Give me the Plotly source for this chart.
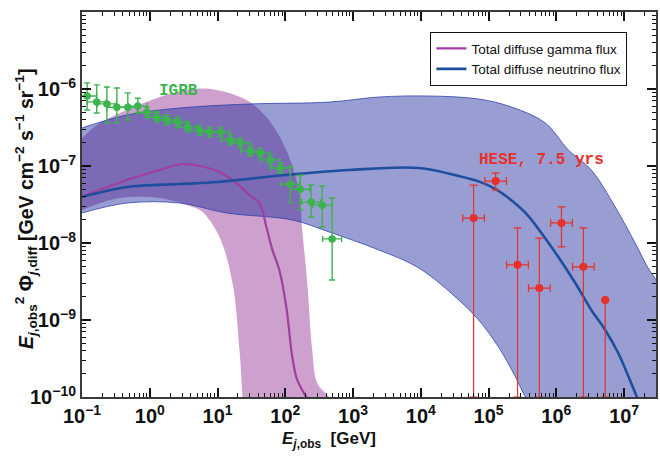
import numpy as np
import plotly.graph_objects as go

# ---------------- data ----------------
# Total diffuse neutrino flux: central curve and band edges (log10 E [GeV], log10 flux)
nu_mid_logE = [-1.0, -0.338, 0.441, 1.0, 2.0, 2.941, 3.971, 4.559, 4.853, 5.103, 5.294,
               5.544, 5.779, 6.029, 6.279, 6.515, 6.721, 6.912, 7.103, 7.206]
nu_mid_logF = [-7.403, -7.273, -7.234, -7.208, -7.117, -7.052, -7.026, -7.130, -7.200, -7.300,
               -7.416, -7.610, -7.870, -8.182, -8.519, -8.870, -9.130, -9.429, -9.818, -10.04]
nu_up_logE = [-1.0, -0.338, 0.441, 1.471, 2.647, 3.382, 4.118, 4.853, 5.338, 5.838, 6.176,
              6.515, 6.868, 7.162, 7.353, 7.5, 7.6]
nu_up_logF = [-6.506, -6.338, -6.247, -6.195, -6.170, -6.104, -6.091, -6.130, -6.234, -6.442,
              -6.792, -7.052, -7.532, -8.0, -8.325, -8.52, -8.7]
nu_lo_logE = [-1.0, -0.338, 0.441, 1.132, 2.103, 2.647, 3.382, 3.971, 4.559, 4.853, 5.147,
              5.397, 5.544, 5.735]
nu_lo_logF = [-7.610, -7.481, -7.481, -7.610, -7.701, -7.857, -8.091, -8.325, -8.740, -9.0,
              -9.351, -9.740, -10.0, -10.234]

# Total diffuse gamma flux: central curve and band edges
ga_mid_logE = [-1.0, -0.338, 0.147, 0.485, 0.735, 1.029, 1.279, 1.471, 1.618, 1.721, 1.809,
               1.912, 2.015, 2.103, 2.176, 2.309, 2.38]
ga_mid_logF = [-7.40, -7.182, -7.052, -6.974, -7.0, -7.078, -7.221, -7.377, -7.48, -7.792,
               -8.09, -8.35, -8.831, -9.481, -9.779, -10.0, -10.1]
ga_up_logE = [-1.0, -0.735, -0.338, 0.147, 0.632, 0.985, 1.426, 1.721, 2.015, 2.206, 2.25,
              2.324, 2.397, 2.471, 2.647, 2.735]
ga_up_logF = [-6.636, -6.442, -6.273, -6.104, -6.0, -6.013, -6.143, -6.364, -6.792, -7.351,
              -7.831, -8.519, -9.390, -9.818, -10.0, -10.1]
ga_lo_logE = [-1.0, -0.441, 0.147, 0.632, 0.779, 1.029, 1.221, 1.324, 1.368, 1.38]
ga_lo_logF = [-7.571, -7.416, -7.416, -7.532, -7.597, -7.922, -8.519, -9.390, -10.0, -10.17]

# IGRB data points
igrb_E = [0.119, 0.165, 0.233, 0.327, 0.474, 0.666, 0.904, 1.27, 1.78, 2.58, 3.62, 5.43, 7.62,
          11.1, 15.5, 21.8, 30.5, 42.9, 60.1, 84.3, 118, 166, 241, 350, 491]
igrb_F = [8.1e-7, 6.8e-7, 6.4e-7, 5.8e-7, 5.8e-7, 6.0e-7, 5.0e-7, 4.3e-7, 3.95e-7, 3.7e-7,
          3.2e-7, 2.9e-7, 2.77e-7, 2.77e-7, 2.18e-7, 1.99e-7, 1.57e-7, 1.48e-7, 1.20e-7,
          9.4e-8, 5.8e-8, 5.0e-8, 3.4e-8, 3.1e-8, 1.13e-8]
igrb_hi = [1.20e-6, 1.13e-6, 1.06e-6, 1.03e-6, 8.9e-7, 7.6e-7, 5.8e-7, 5.0e-7, 4.6e-7, 4.3e-7,
           3.7e-7, 3.4e-7, 3.2e-7, 3.2e-7, 2.55e-7, 2.3e-7, 1.82e-7, 1.72e-7, 1.40e-7,
           1.10e-7, 9.7e-8, 7.6e-8, 5.66e-8, 5.5e-8, 3.84e-8]
igrb_lo = [5.33e-7, 4.88e-7, 3.61e-7, 3.61e-7, 3.95e-7, 4.88e-7, 4.3e-7, 3.7e-7, 3.4e-7, 3.2e-7,
           2.75e-7, 2.5e-7, 2.4e-7, 2.4e-7, 1.88e-7, 1.71e-7, 1.35e-7, 1.27e-7, 1.03e-7,
           8.1e-8, 3.3e-8, 2.7e-8, 2.18e-8, 1.61e-8, 3.3e-9]
igrb_dex = 0.14

# IceCube HESE 7.5 yr points (None = extends to bottom of the plot / no bar)
hese_E = [6.0e4, 1.27e5, 2.67e5, 5.6e5, 1.19e6, 2.5e6, 5.26e6]
hese_F = [2.11e-8, 6.38e-8, 5.2e-9, 2.6e-9, 1.82e-8, 4.9e-9, 1.82e-9]
hese_hi = [5.66e-8, 8.1e-8, 1.57e-8, 1.16e-8, 2.94e-8, 1.57e-8, None]
hese_lo = [None, 4.87e-8, None, None, 8.9e-9, None, None]
hese_dex = [0.16, 0.16, 0.16, 0.16, 0.16, 0.16, 0.0]

x_tick_exp = [-1, 0, 1, 2, 3, 4, 5, 6, 7]
y_tick_exp = [-10, -9, -8, -7, -6, -5]
X_LOG_RANGE = [-1.0, 7.47]
Y_LOG_RANGE = [-10.0, -5.0]

# ---------------- styling ----------------
FONT = "Liberation Sans"
NU_FILL = "rgba(26,39,155,0.45)"
NU_EDGE = "rgba(40,60,170,0.75)"
GA_FILL = "rgba(144,44,144,0.45)"
NU_LINE = "#1f4e9e"
GA_LINE = "#a23ea2"
GREEN = "#3cb44e"
RED = "#e8302a"
AXC = "#3a3a3a"
SM = 1.0

p = lambda a: [10 ** v for v in a]

fig = go.Figure()

# gamma band polygon
gx = p(ga_up_logE) + p(ga_lo_logE)[::-1]
gy = p(ga_up_logF) + p(ga_lo_logF)[::-1]
fig.add_trace(go.Scatter(x=gx, y=gy, fill="toself", fillcolor=GA_FILL, mode="lines",
                         line=dict(width=0, color=GA_FILL, shape="spline", smoothing=SM),
                         hoverinfo="skip", showlegend=False))

# neutrino band polygon (closed outside the axes)
xr_out = X_LOG_RANGE[1] + 0.3
yr_out = Y_LOG_RANGE[0] - 0.5
nx = p(nu_up_logE) + [10 ** xr_out, 10 ** xr_out, 10 ** nu_lo_logE[-1]] + p(nu_lo_logE)[::-1]
ny = p(nu_up_logF) + [10 ** nu_up_logF[-1], 10 ** yr_out, 10 ** yr_out] + p(nu_lo_logF)[::-1]
fig.add_trace(go.Scatter(x=nx, y=ny, fill="toself", fillcolor=NU_FILL, mode="lines",
                         line=dict(width=0, color=NU_FILL, shape="spline", smoothing=SM),
                         hoverinfo="skip", showlegend=False))
for le, lf in [(nu_up_logE, nu_up_logF), (nu_lo_logE, nu_lo_logF)]:
    fig.add_trace(go.Scatter(x=p(le), y=p(lf), mode="lines",
                             line=dict(width=1, color=NU_EDGE, shape="spline", smoothing=SM),
                             hoverinfo="skip", showlegend=False))

# central curves
fig.add_trace(go.Scatter(x=p(ga_mid_logE), y=p(ga_mid_logF), mode="lines",
                         line=dict(width=2.2, color=GA_LINE, shape="spline", smoothing=SM),
                         name="Total diffuse gamma flux"))
fig.add_trace(go.Scatter(x=p(nu_mid_logE), y=p(nu_mid_logF), mode="lines",
                         line=dict(width=2.6, color=NU_LINE, shape="spline", smoothing=SM),
                         name="Total diffuse neutrino flux"))

# IGRB
igrb_E_a = np.array(igrb_E)
fig.add_trace(go.Scatter(
    x=igrb_E, y=igrb_F, mode="markers", showlegend=False,
    marker=dict(size=7.5, color=GREEN),
    error_y=dict(type="data", symmetric=False,
                 array=[h - f for h, f in zip(igrb_hi, igrb_F)],
                 arrayminus=[f - l for f, l in zip(igrb_F, igrb_lo)],
                 color=GREEN, thickness=1.4, width=3),
    error_x=dict(type="data", symmetric=False,
                 array=list(igrb_E_a * (10 ** igrb_dex - 1)),
                 arrayminus=list(igrb_E_a * (1 - 10 ** -igrb_dex)),
                 color=GREEN, thickness=1.4, width=3)))

# HESE
y_floor = 10 ** Y_LOG_RANGE[0]
hese_E_a = np.array(hese_E)
hd = np.array(hese_dex)
fig.add_trace(go.Scatter(
    x=hese_E, y=hese_F, mode="markers", showlegend=False,
    marker=dict(size=8, color=RED),
    error_y=dict(type="data", symmetric=False,
                 array=[(h - f) if h is not None else 0 for h, f in zip(hese_hi, hese_F)],
                 arrayminus=[(f - l) if l is not None else (f - y_floor) for f, l in zip(hese_F, hese_lo)],
                 color=RED, thickness=1.2, width=4),
    error_x=dict(type="data", symmetric=False,
                 array=list(hese_E_a * (10 ** hd - 1)),
                 arrayminus=list(hese_E_a * (1 - 10 ** -hd)),
                 color=RED, thickness=1.2, width=4)))

# text labels
fig.add_annotation(xref="paper", yref="paper", x=0.168, y=0.795, xanchor="center", yanchor="middle",
                   text="<b>IGRB</b>", showarrow=False,
                   font=dict(family="Liberation Mono", size=16, color=GREEN))
fig.add_annotation(xref="paper", yref="paper", x=0.800, y=0.616, xanchor="center", yanchor="middle",
                   text="<b>HESE, 7.5 yrs</b>", showarrow=False,
                   font=dict(family="Liberation Mono", size=16, color=RED))

# axis titles as annotations
fig.add_annotation(xref="paper", yref="paper", x=0.43, y=-0.112, xanchor="center", yanchor="middle",
                   text="<b><i>E</i><sub><i>j</i>,obs</sub>  [GeV]</b>", showarrow=False,
                   font=dict(family=FONT, size=17, color="#111"))
fig.add_annotation(xref="paper", yref="paper", x=-0.098, y=0.49, xanchor="center", yanchor="middle",
                   textangle=-90,
                   text="<b><i>E</i><sub><i>j</i>,obs</sub><sup>2</sup> Φ<sub><i>j</i>,diff</sub> "
                        "[GeV cm<sup>−2</sup> s<sup>−1</sup> sr<sup>−1</sup>]</b>",
                   showarrow=False, font=dict(family=FONT, size=19.5, color="#111"))

def minor_vals(exps_lo, exps_hi):
    return [m * 10.0 ** e for e in range(exps_lo, exps_hi) for m in range(2, 10)]

def exp_label(e):
    return "10<sup>" + (str(e) if e >= 0 else "−" + str(-e)) + "</sup>"

axis_common = dict(type="log", showgrid=False, zeroline=False, showline=True, linecolor=AXC,
                   linewidth=2, mirror="allticks", ticks="inside", ticklen=9, tickwidth=1.6,
                   tickcolor="#111", tickfont=dict(family=FONT, size=20, color="#111", weight="bold"))

fig.update_xaxes(range=X_LOG_RANGE, tickmode="array", tickvals=[10.0 ** e for e in x_tick_exp],
                 ticktext=[exp_label(e) for e in x_tick_exp],
                 minor=dict(tickmode="array", tickvals=minor_vals(-1, 8), ticks="inside", ticklen=4,
                            tickwidth=1.2, tickcolor="#111", showgrid=False),
                 **axis_common)
fig.update_yaxes(range=Y_LOG_RANGE, tickmode="array", tickvals=[10.0 ** e for e in y_tick_exp],
                 ticktext=[exp_label(e) for e in y_tick_exp],
                 minor=dict(tickmode="array", tickvals=minor_vals(-10, -5), ticks="inside", ticklen=4,
                            tickwidth=1.2, tickcolor="#111", showgrid=False),
                 **axis_common)

fig.update_layout(
    width=660, height=457, autosize=False,
    margin=dict(l=82, r=2, t=12, b=60),
    paper_bgcolor="white", plot_bgcolor="white",
    font=dict(family=FONT, color="#111"),
    legend=dict(x=0.607, y=0.948, xanchor="left", yanchor="top", bgcolor="white",
                bordercolor="#111", borderwidth=1, font=dict(family=FONT, size=13.5, color="#111"),
                itemwidth=30),
)

fig.write_html("out.html")
